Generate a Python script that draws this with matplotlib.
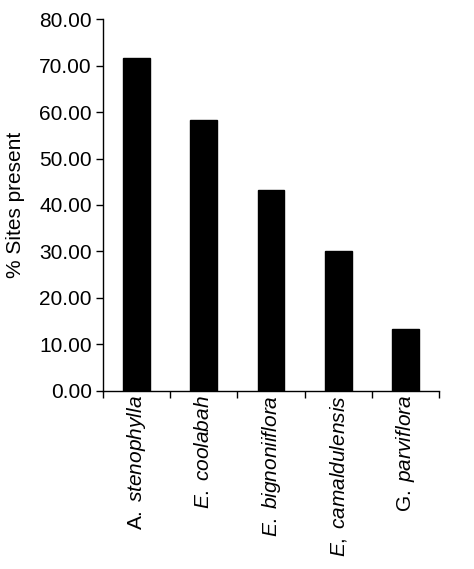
import matplotlib
matplotlib.use('Agg')
import matplotlib.pyplot as plt
import numpy as np

# Valori
genere = ['A.', 'E.', 'E.', 'E,', 'G.']
genere_corsivo = [False, True, True, True, False]
specie = ['stenophylla', 'coolabah', 'bignoniiflora', 'camaldulensis', 'parviflora']
percentuali = [71.67, 58.33, 43.33, 30.00, 13.33]
tick_y = [0, 10, 20, 30, 40, 50, 60, 70, 80]

plt.rcParams['font.family'] = ['Liberation Sans', 'DejaVu Sans']
plt.rcParams['mathtext.fontset'] = 'custom'
plt.rcParams['mathtext.rm'] = 'Liberation Sans'
plt.rcParams['mathtext.it'] = 'Liberation Sans:italic'

fig = plt.figure(figsize=(4.74, 5.69), dpi=100)
ax = fig.add_axes([0.2173, 0.3134, 0.7089, 0.6527])

x = np.arange(len(percentuali))
ax.bar(x, percentuali, width=0.4, color='black', edgecolor='black')

# Etichette: genere a volte dritto, specie sempre in corsivo
etichette = []
for g, c, s in zip(genere, genere_corsivo, specie):
    g_tex = r'\mathit{' + g + '}' if c else r'\mathrm{' + g + '}'
    etichette.append(r'$' + g_tex + r'\;\mathit{' + s + '}$')

ax.set_xlim(-0.5, len(percentuali) - 0.5)
ax.set_xticks(np.arange(-0.5, len(percentuali)))
ax.set_xticklabels([])
ax.set_xticks(x, minor=True)
ax.set_xticklabels(etichette, minor=True, rotation=90, fontsize=15, va='top', ha='center')
ax.tick_params(axis='x', which='minor', length=0, pad=3)
ax.tick_params(axis='x', which='major', length=5, width=1, direction='out')

ax.set_ylim(0, 80)
ax.set_yticks(tick_y)
ax.set_yticklabels([f'{v:.2f}' for v in tick_y], fontsize=15)
ax.tick_params(axis='y', length=5, width=1, direction='out', pad=3)
ax.set_ylabel('% Sites present', fontsize=15, labelpad=10)

ax.spines['top'].set_visible(False)
ax.spines['right'].set_visible(False)
ax.spines['left'].set_linewidth(1)
ax.spines['bottom'].set_linewidth(1)

fig.savefig('out.png', dpi=100)
